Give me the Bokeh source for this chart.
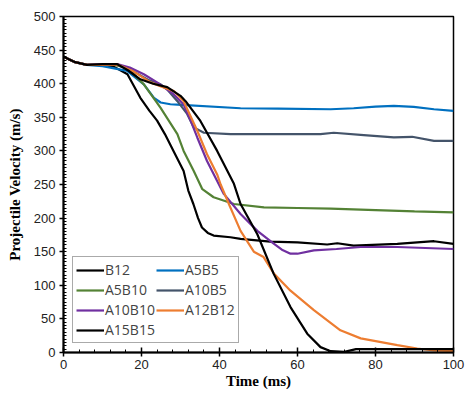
from bokeh.plotting import figure
from bokeh.models import Legend, LegendItem, Range1d, FixedTicker
from bokeh.embed import file_html
from bokeh.resources import INLINE

# ---- data ----
b12_t = [0, 3, 6, 10, 13, 16.4, 19.7, 22, 24, 26, 28.2, 30.8, 32, 33.3, 34.5, 35.5, 37, 38.5, 42.8, 45.4, 53, 60, 67.6, 70.2, 74.4, 85.6, 95, 100]
b12_v = [440, 432, 428, 428, 425, 414, 379, 360, 345, 325, 300, 270, 241, 221, 200, 186, 178, 174, 171.5, 169, 165, 164, 160.7, 162.6, 159, 161.7, 165.6, 161.7]

a5b5_t = [0, 3, 6, 10, 12, 16.3, 20.6, 23.2, 24.9, 27.4, 29.2, 45.4, 55, 68.5, 74.4, 80, 84.7, 89.8, 95, 100]
a5b5_v = [440, 432, 428, 426, 424, 419, 399, 379, 372, 369.4, 369, 363.5, 363, 362, 363.5, 366, 367, 365.5, 362, 359.5]

a5b10_t = [0, 3, 6, 10, 13, 16.3, 20.6, 24.9, 29.2, 30.8, 33.4, 35.6, 38.5, 43.7, 51.4, 60, 68.5, 80, 90, 100]
a5b10_v = [440, 432, 428, 428, 428, 424, 399, 364, 325, 300, 270, 243, 231, 221, 216, 215, 214, 212, 210, 208.6]

a10b5_t = [0, 3, 6, 10, 14, 18, 22, 24.9, 26.5, 29.2, 31.7, 33.4, 36, 42.8, 50.5, 65.9, 69.3, 77, 84.7, 89.4, 95, 100]
a10b5_v = [440, 432, 428, 428, 428, 418, 405, 399, 392, 374, 355, 335, 327, 325, 325, 325, 327, 323.5, 320, 321, 315, 315]

a10b10_t = [0, 3, 6, 10, 14, 17, 20.6, 24, 28.3, 30.8, 32.6, 34.3, 36.8, 38.1, 41.1, 45.4, 49.7, 53.9, 56, 58.2, 60, 64.2, 70, 76.2, 85.6, 100]
a10b10_v = [440, 432, 428, 429, 429, 424, 414, 402, 384, 369, 345, 320, 285, 270, 236, 206, 181, 162, 153, 147, 147, 152, 154, 157, 157, 154]

a12b12_t = [0, 3, 6, 10, 14, 18, 22.3, 25, 28.3, 30.8, 34.3, 36.8, 39.4, 40.3, 42.4, 45.4, 48.8, 51.3, 54, 58.2, 64.2, 71, 76.2, 85.6, 90.7, 95, 100]
a12b12_v = [440, 432, 428, 428, 428, 418, 402, 396, 389, 374, 330, 295, 265, 250, 221, 181, 150, 142, 117, 92, 63, 33, 21, 11, 6, 3, 2]

a15b15_t = [0, 3, 6, 10, 13.8, 16.5, 19.7, 23, 26.6, 30, 31.3, 35.1, 39.4, 43.7, 45.4, 49.7, 53.9, 58.2, 62.5, 65.9, 68.5, 72, 75, 85, 100]
a15b15_v = [440, 432, 428, 429, 429, 420, 406.5, 400, 395, 382, 374, 344.6, 300, 251, 221, 176, 117, 67.6, 28, 8, 2, 1, 5, 5, 5]

series_names = ["B12", "A5B5", "A5B10", "A10B5", "A10B10", "A12B12", "A15B15"]
series_t = [b12_t, a5b5_t, a5b10_t, a10b5_t, a10b10_t, a12b12_t, a15b15_t]
series_v = [b12_v, a5b5_v, a5b10_v, a10b5_v, a10b10_v, a12b12_v, a15b15_v]
series_colors = ["#000000", "#0070C0", "#548235", "#44546A", "#7030A0", "#ED7D31", "#000000"]

x_ticks = [0, 20, 40, 60, 80, 100]
y_ticks = [0, 50, 100, 150, 200, 250, 300, 350, 400, 450, 500]

p = figure(width=474, height=393, output_backend="svg", toolbar_location=None,
           x_range=Range1d(0, 100), y_range=Range1d(0, 500),
           min_border_left=63, min_border_right=21, min_border_top=16, min_border_bottom=41)
p.background_fill_color = "white"
p.border_fill_color = "white"
p.outline_line_color = "black"
p.outline_line_width = 1.5
p.xgrid.visible = False
p.ygrid.visible = False

renderers = []
for t, v, c in zip(series_t, series_v, series_colors):
    r = p.line(t, v, line_color=c, line_width=2.2)
    renderers.append(r)

# axes
p.xaxis.ticker = FixedTicker(ticks=x_ticks, minor_ticks=list(range(0, 101, 4)))
p.yaxis.ticker = FixedTicker(ticks=y_ticks, minor_ticks=list(range(0, 501, 5)))
for ax in (p.xaxis, p.yaxis):
    ax.axis_line_width = 2
    ax.axis_line_color = "black"
    ax.major_tick_line_color = "black"
    ax.minor_tick_line_color = "black"
    ax.major_tick_line_width = 1.5
    ax.minor_tick_line_width = 1
    ax.major_label_text_font = "Liberation Sans"
    ax.major_label_text_font_size = "13px"
    ax.major_label_text_color = "#222222"
    ax.axis_label_text_font = "Liberation Serif"
    ax.axis_label_text_font_style = "bold"
    ax.axis_label_text_font_size = "15px"
    ax.axis_label_text_color = "black"
p.xaxis.major_tick_in = 5
p.xaxis.major_tick_out = 4
p.xaxis.minor_tick_in = 3
p.xaxis.minor_tick_out = 0
p.yaxis.major_tick_in = 0
p.yaxis.major_tick_out = 4
p.yaxis.minor_tick_in = 3
p.yaxis.minor_tick_out = 0
p.xaxis.major_label_standoff = 3
p.yaxis.major_label_standoff = 4
p.xaxis.axis_label = "Time (ms)"
p.yaxis.axis_label = "Projectile Velocity (m/s)"
p.xaxis.axis_label_standoff = 1
p.yaxis.axis_label_standoff = 8

items = [LegendItem(label=n, renderers=[r]) for n, r in zip(series_names, renderers)]
legend = Legend(items=items, location="bottom_left", orientation="horizontal", ncols=2,
                label_text_font="Open Sans", label_text_font_size="14px",
                label_height=14, glyph_height=14, glyph_width=28, label_standoff=1,
                spacing=1, padding=3, margin=9,
                border_line_color="#555555", border_line_width=1.5,
                background_fill_alpha=1.0)
p.add_layout(legend, "center")

open("out.html", "w").write(file_html(p, INLINE))
